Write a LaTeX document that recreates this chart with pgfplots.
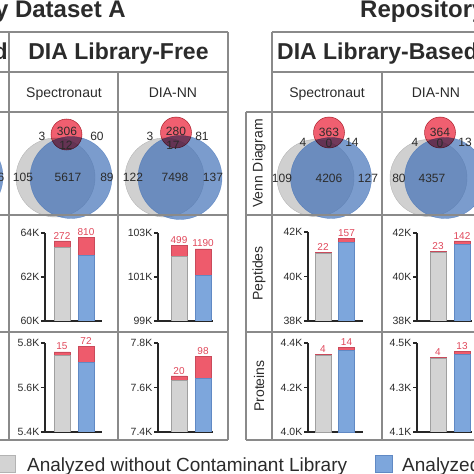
\documentclass[border=0pt]{standalone}
\usepackage{pgfplots}
\pgfplotsset{compat=1.18}
\usepackage{fontspec}
\setmainfont{Liberation Sans}
\definecolor{barGray}{HTML}{D3D3D3}
\definecolor{barGrayD}{HTML}{A0A0A0}
\definecolor{barBlue}{HTML}{7DA6DC}
\definecolor{barBlueD}{HTML}{6089C4}
\definecolor{barRed}{HTML}{EE5B6C}
\definecolor{barRedD}{HTML}{C94A5B}
\definecolor{lblRed}{HTML}{E0475A}
\definecolor{vGray}{HTML}{D0D0D0}
\definecolor{vGrayD}{HTML}{B5B5B5}
\definecolor{vBlue}{HTML}{3C6DB6}
\definecolor{vRed}{HTML}{EF5164}
\definecolor{tbl}{HTML}{8A8A8A}
\definecolor{txt}{HTML}{2B2B2B}
\newcommand{\fs}[1]{\fontsize{#1}{#1}\selectfont}
\pgfplotsset{
  glob/.style={at={(0,0)}, anchor=south west, width=474pt, height=474pt, scale only axis,
    xmin=0, xmax=474, ymin=0, ymax=474, y dir=reverse, hide axis, clip=false},
  barax/.style={scale only axis, axis x line=bottom, axis y line=left,
    axis line style={-, line width=1.3pt, color=black!85},
    xtick=\empty, tick align=outside, major tick length=4pt,
    tick style={line width=1.1pt, color=black!85},
    yticklabel style={font=\fs{10.5}, text=txt, inner sep=1.5pt},
    /pgf/number format/assume math mode=true,
    enlargelimits=false, ybar, bar width=16pt, clip mode=individual,
    xmin=0, anchor=south west,
    nodes near coords style={font=\fs{10}, text=lblRed, inner sep=1.5pt}},
  redbar/.style={bar shift=0pt, fill=barRed, draw=barRedD, line width=0.6pt, nodes near coords, point meta=explicit symbolic},
  graybar/.style={bar shift=0pt, fill=barGray, draw=barGrayD, line width=0.6pt},
  bluebar/.style={bar shift=0pt, fill=barBlue, draw=barBlueD, line width=0.6pt},
  vgray/.style={only marks, mark=*, mark options={fill=vGray, draw=vGrayD, line width=0.4pt}},
  vblue/.style={only marks, mark=*, mark options={fill=vBlue, fill opacity=0.68, draw=vBlue, draw opacity=0.6, line width=0.4pt}},
  vred/.style={only marks, mark=*, mark size=15.5pt, mark options={fill=vRed, fill opacity=0.92, draw=vRed!75!black, line width=0.5pt, blend mode=multiply}},
}
\begin{document}
\begin{tikzpicture}
\path[use as bounding box] (0,0) rectangle (474pt,474pt);
\clip (0,0) rectangle (474pt,474pt);
\begin{axis}[glob]
% ---- Venn diagrams ----
\addplot[vblue, mark size=41pt] coordinates {(-38,177)};
% left Spectronaut
\addplot[vgray, mark size=39.5pt] coordinates {(55.5,177.5)};
\addplot[vblue, mark size=41pt] coordinates {(71,177.5)};
\addplot[vred] coordinates {(66.5,134.5)};
% left DIA-NN
\addplot[vgray, mark size=39.5pt] coordinates {(164.5,177.5)};
\addplot[vblue, mark size=42pt] coordinates {(180,177.5)};
\addplot[vred] coordinates {(176,132.5)};
% right Spectronaut
\addplot[vgray, mark size=38.5pt] coordinates {(315.5,178)};
\addplot[vblue, mark size=40.5pt] coordinates {(331,178)};
\addplot[vred] coordinates {(329,132.5)};
% right DIA-NN
\addplot[vgray, mark size=38.5pt] coordinates {(428.5,178)};
\addplot[vblue, mark size=40.5pt] coordinates {(445,178)};
\addplot[vred] coordinates {(440,132.5)};
\end{axis}
\begin{axis}[glob]
% venn numbers
\begin{scope}[every node/.style={font=\fs{12}, text=txt, inner sep=0pt}]
\node[anchor=east] at (axis cs:4.5,177) {6};
\node at (axis cs:42,136) {3};
\node at (axis cs:67,131) {306};
\node at (axis cs:66,145) {12};
\node at (axis cs:97,136) {60};
\node at (axis cs:23,177) {105};
\node at (axis cs:68,177) {5617};
\node at (axis cs:107,177) {89};
\node at (axis cs:150,136) {3};
\node at (axis cs:176,131) {280};
\node at (axis cs:173,145) {17};
\node at (axis cs:202,136) {81};
\node at (axis cs:133,177) {122};
\node at (axis cs:175,177) {7498};
\node at (axis cs:213,177) {137};
\node at (axis cs:303,142) {4};
\node at (axis cs:329,132) {363};
\node at (axis cs:329,143) {0};
\node at (axis cs:352,142) {14};
\node at (axis cs:282,178) {109};
\node at (axis cs:329,178) {4206};
\node at (axis cs:368,178) {127};
\node at (axis cs:415,142) {4};
\node at (axis cs:440,132) {364};
\node at (axis cs:440,143) {0};
\node at (axis cs:465,142) {13};
\node at (axis cs:399,178) {80};
\node at (axis cs:432,178) {4357};
\end{scope}
% ---- table lines ----
\begin{scope}[draw=tbl, line width=1.2pt]
\draw (axis cs:0,32) -- (axis cs:228,32);
\draw (axis cs:0,72) -- (axis cs:228,72);
\draw (axis cs:0,112) -- (axis cs:228,112);
\draw (axis cs:0,215) -- (axis cs:228,215);
\draw (axis cs:0,332) -- (axis cs:228,332);
\draw (axis cs:0,440) -- (axis cs:228,440);
\draw (axis cs:9,32) -- (axis cs:9,440);
\draw (axis cs:118,72) -- (axis cs:118,440);
\draw (axis cs:228,32) -- (axis cs:228,440);
\draw (axis cs:272,32) -- (axis cs:480,32);
\draw (axis cs:272,72) -- (axis cs:480,72);
\draw (axis cs:246,112) -- (axis cs:480,112);
\draw (axis cs:246,215) -- (axis cs:480,215);
\draw (axis cs:246,332) -- (axis cs:480,332);
\draw (axis cs:246,440) -- (axis cs:480,440);
\draw (axis cs:246,112) -- (axis cs:246,440);
\draw (axis cs:272,32) -- (axis cs:272,440);
\draw (axis cs:382,72) -- (axis cs:382,440);
\end{scope}
% ---- texts ----
\node[anchor=base east, font=\fs{24}\bfseries, text=txt, inner sep=0pt] at (axis cs:126,17.5) {Laboratory Dataset A};
\node[anchor=base west, font=\fs{24}\bfseries, text=txt, inner sep=0pt] at (axis cs:360,17.5) {Repository Dataset B};
\node[anchor=base east, font=\fs{23}\bfseries, text=txt, inner sep=0pt] at (axis cs:8,59) {DIA Library-Based};
\node[anchor=base, font=\fs{23}\bfseries, text=txt, inner sep=0pt] at (axis cs:118.5,59) {DIA Library-Free};
\node[anchor=base west, font=\fs{23}\bfseries, text=txt, inner sep=0pt] at (axis cs:277,59) {DIA Library-Based};
\node[anchor=base, font=\fs{14}, text=txt, inner sep=0pt] at (axis cs:64,97) {Spectronaut};
\node[anchor=base, font=\fs{14}, text=txt, inner sep=0pt] at (axis cs:173,97) {DIA-NN};
\node[anchor=base, font=\fs{14}, text=txt, inner sep=0pt] at (axis cs:327,97) {Spectronaut};
\node[anchor=base, font=\fs{14}, text=txt, inner sep=0pt] at (axis cs:436,97) {DIA-NN};
\node[rotate=90, font=\fs{14}, text=txt, inner sep=0pt] at (axis cs:259,163.5) {Venn Diagram};
\node[rotate=90, font=\fs{14}, text=txt, inner sep=0pt] at (axis cs:259,273.5) {Peptides};
\node[rotate=90, font=\fs{14}, text=txt, inner sep=0pt] at (axis cs:259,386) {Proteins};
% ---- legend ----
\filldraw[fill=barGray, draw=barGray!85!black, line width=0.5pt] (axis cs:-2,455) rectangle (axis cs:15,472);
\node[anchor=base west, font=\fs{19}, text=txt, inner sep=0pt] at (axis cs:27,471) {Analyzed without Contaminant Library};
\filldraw[fill=barBlue, draw=barBlueD, line width=0.5pt] (axis cs:375,455) rectangle (axis cs:392,472);
\node[anchor=base west, font=\fs{19}, text=txt, inner sep=0pt] at (axis cs:402,471) {Analyzed with Contaminant Library};
\end{axis}
% ---- bar charts ----
\begin{axis}[barax, at={(45pt,153pt)}, width=57pt, height=88pt, xmax=57, ymin=60, ymax=64, ytick={60,62,64}, yticklabels={60K,62K,64K}]
\addplot[redbar] coordinates {(17,63.642) [272] (41,63.81) [810]};
\addplot[graybar] coordinates {(17,63.37)};
\addplot[bluebar] coordinates {(41,63.0)};
\end{axis}
\begin{axis}[barax, at={(158pt,153pt)}, width=55pt, height=88pt, xmax=55, ymin=99, ymax=103, ytick={99,101,103}, yticklabels={99K,101K,103K}]
\addplot[redbar] coordinates {(21,102.449) [499] (45,102.28) [1190]};
\addplot[graybar] coordinates {(21,101.95)};
\addplot[bluebar] coordinates {(45,101.09)};
\end{axis}
\begin{axis}[barax, at={(45pt,42pt)}, width=57pt, height=89pt, xmax=57, ymin=5.4, ymax=5.8, ytick={5.4,5.6,5.8}, yticklabels={5.4K,5.6K,5.8K}]
\addplot[redbar] coordinates {(17,5.760) [15] (41,5.786) [72]};
\addplot[graybar] coordinates {(17,5.745)};
\addplot[bluebar] coordinates {(41,5.714)};
\end{axis}
\begin{axis}[barax, at={(158pt,42pt)}, width=55pt, height=89pt, xmax=55, ymin=7.4, ymax=7.8, ytick={7.4,7.6,7.8}, yticklabels={7.4K,7.6K,7.8K}]
\addplot[redbar] coordinates {(21,7.652) [20] (45,7.739) [98]};
\addplot[graybar] coordinates {(21,7.632)};
\addplot[bluebar] coordinates {(45,7.641)};
\end{axis}
\begin{axis}[barax, at={(308pt,153pt)}, width=55pt, height=89pt, xmax=55, ymin=38, ymax=42, ytick={38,40,42}, yticklabels={38K,40K,42K}]
\addplot[redbar] coordinates {(15,41.067) [22] (38.5,41.707) [157]};
\addplot[graybar] coordinates {(15,41.045)};
\addplot[bluebar] coordinates {(38.5,41.55)};
\end{axis}
\begin{axis}[barax, at={(417pt,153pt)}, width=55pt, height=88pt, xmax=55, ymin=38, ymax=42, ytick={38,40,42}, yticklabels={38K,40K,42K}]
\addplot[redbar] coordinates {(21,41.163) [23] (45,41.642) [142]};
\addplot[graybar] coordinates {(21,41.14)};
\addplot[bluebar] coordinates {(45,41.5)};
\end{axis}
\begin{axis}[barax, at={(308pt,42pt)}, width=55pt, height=89pt, xmax=55, ymin=4.0, ymax=4.4, ytick={4.0,4.2,4.4}, yticklabels={4.0K,4.2K,4.4K}]
\addplot[redbar] coordinates {(15,4.349) [4] (38.5,4.382) [14]};
\addplot[graybar] coordinates {(15,4.345)};
\addplot[bluebar] coordinates {(38.5,4.368)};
\end{axis}
\begin{axis}[barax, at={(417pt,42pt)}, width=55pt, height=89pt, xmax=55, ymin=4.1, ymax=4.5, ytick={4.1,4.3,4.5}, yticklabels={4.1K,4.3K,4.5K}]
\addplot[redbar] coordinates {(21,4.436) [4] (45,4.463) [13]};
\addplot[graybar] coordinates {(21,4.432)};
\addplot[bluebar] coordinates {(45,4.45)};
\end{axis}
\end{tikzpicture}
\end{document}
